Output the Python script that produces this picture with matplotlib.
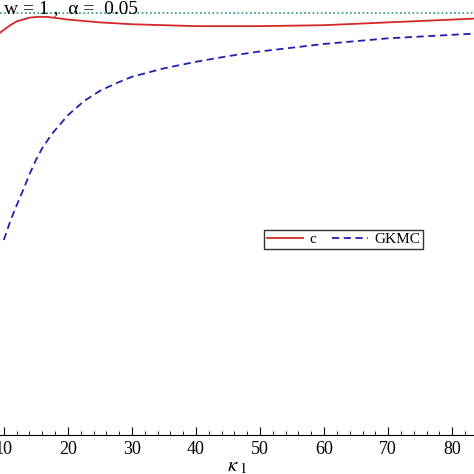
import matplotlib
matplotlib.use("Agg")
import matplotlib.pyplot as plt
from matplotlib.ticker import MultipleLocator

plt.rcParams['font.family'] = ['Liberation Serif', 'DejaVu Serif']
plt.rcParams['mathtext.fontset'] = 'stix'

k_red = [9.4, 11, 12, 14, 15.5, 17, 20, 25, 30, 40, 50, 60, 70, 83.4]
c_red = [0.929, 0.937, 0.941, 0.945, 0.946, 0.9457, 0.943, 0.940, 0.938, 0.936, 0.936, 0.937, 0.940, 0.944]
k_blue = [10, 11, 12, 13, 14, 15, 16, 17.5, 20, 22.5, 25, 27.5, 30, 35, 40, 45, 50, 60, 70, 83.4]
c_blue = [0.708, 0.728, 0.745, 0.761, 0.778, 0.793, 0.806, 0.821, 0.841, 0.856, 0.867, 0.875, 0.882, 0.891, 0.898, 0.904, 0.909, 0.917, 0.923, 0.928]
nominal = 0.95

y0 = 0.95 - (435 - 13) * 0.45 / 422
ytop = 0.95 + 13 * 0.45 / 422

fig = plt.figure(figsize=(4.74, 4.74), dpi=100)
ax = fig.add_axes([0, 39/474, 1, 435/474])
ax.plot(k_red, c_red, color='#d62728', lw=1.3, label='c')
ax.plot(k_blue, c_blue, color='#2020b0', lw=1.3, ls=(0, (4, 2.5)), label='GKMC')
ax.axhline(nominal, color='#2a8f8f', lw=1.2, ls=(0, (1, 1.5)))
ax.set_xlim(9.4, 83.4)
ax.set_ylim(y0, ytop)
for s in ['top', 'right', 'left']:
    ax.spines[s].set_visible(False)
ax.set_yticks([])
ax.xaxis.set_major_locator(MultipleLocator(10))
ax.xaxis.set_minor_locator(MultipleLocator(2))
ax.tick_params(axis='x', which='major', direction='in', length=6, labelsize=13, pad=4)
ax.tick_params(axis='x', which='minor', direction='in', length=3)
ax.set_xlabel(r'$\kappa_{\ 1}$', fontsize=15, labelpad=0)
fig.text(4/474, 1 - 13/474, 'w = 1 ,  α =  0.05', fontsize=14, va='baseline', ha='left')
ax.legend(loc='upper left', bbox_to_anchor=(256/474, (435-222)/435), fontsize=11,
          frameon=True, fancybox=False, edgecolor='black', ncol=2, handlelength=2.4,
          borderpad=0.2, columnspacing=1.0, handletextpad=0.4)
fig.savefig('out.png', dpi=100)
